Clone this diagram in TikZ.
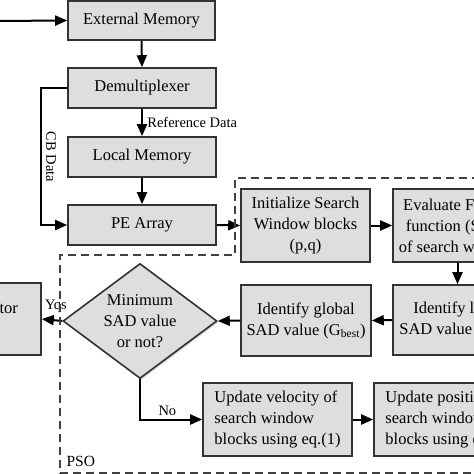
\documentclass[tikz,border=0pt]{standalone}
\usepackage{fontspec}
\setmainfont{Liberation Serif}
\usetikzlibrary{arrows.meta,positioning,shapes.geometric,shadows}
\definecolor{Fill}{HTML}{DEDEDE}
\definecolor{Edge}{HTML}{333333}

\begin{document}
\begin{tikzpicture}[x=1pt,y=-1pt,
      blk/.style={rectangle,draw=Edge,line width=1.6pt,fill=Fill,
        font=\fontsize{16.5}{21}\selectfont,align=center,inner sep=1pt,
        drop shadow={shadow xshift=1.4pt,shadow yshift=-1.4pt,fill=gray!70}},
      dec/.style={blk,diamond,aspect=1.34,inner sep=0pt},
      arr/.style={-{Triangle[length=12pt,width=10pt]},line width=2pt},
      lbl/.style={font=\fontsize{14.5}{16}\selectfont},
      bound/.style={dashed,dash pattern=on 8pt off 5pt,line width=1.4pt,black!75}
    ]
      \useasboundingbox (0,0) rectangle (474,474);
      \clip (0,0) rectangle (474,474);
      % memory path
      \coordinate (src) at (-5,21);
      \node[blk,minimum width=147pt,minimum height=39pt] (ext) at (141.5,20.5) {External Memory};
      \node[blk,minimum width=148pt,minimum height=40pt] (demux) at (142,88) {Demultiplexer};
      \node[blk,minimum width=148pt,minimum height=40pt] (loc) at (142,157) {Local Memory};
      \node[blk,minimum width=148pt,minimum height=40pt] (pe) at (142,225) {PE Array};
      % PSO blocks
      \node[blk,minimum width=129pt,minimum height=73pt] (init) at (305.5,225.5)
        {Initialize Search\\Window blocks\\(p,q)};
      \node[blk,minimum width=129pt,minimum height=73pt] (eval) at (457.5,225.5)
        {Evaluate Fitness\\function (SAD)\\of search window};
      \node[blk,minimum width=129pt,minimum height=70pt] (idr) at (457.5,320)
        {Identify local\\SAD value (P\textsubscript{best})};
      \node[blk,minimum width=130pt,minimum height=71pt] (idg) at (306,320.5)
        {Identify global\\SAD value (G\textsubscript{best})};
      \node[dec,minimum width=154pt,minimum height=115pt] (min) at (140,321)
        {Minimum\\SAD value\\or not?};
      \node[blk,minimum width=142pt,minimum height=72pt] (mv) at (-30,319)
        {Motion Vector\\Window};
      \node[blk,align=left,minimum width=149pt,minimum height=73pt] (vel) at (277.5,419.5)
        {Update velocity of\\search window\\blocks using eq.(1)};
      \node[blk,align=left,minimum width=149pt,minimum height=73pt] (pos) at (448.5,419.5)
        {Update position of\\search window\\blocks using eq.(2)};
      % connectors
      \draw[arr] (src) -- (ext.west);
      \draw[arr] (ext.south) -- (demux.north);
      \draw[arr] (demux.south) -- node[right,lbl,xshift=1pt]{Reference Data} (loc.north);
      \draw[arr] (loc.south) -- (pe.north);
      \draw[arr] (demux.west) -- ++(-26,0) |- (pe.west);
      \node[lbl,rotate=-90] (cb) at (51,157) {CB Data};
      \draw[arr] (pe.east) -- (init.west);
      \draw[arr] (init.east) -- (eval.west);
      \draw[arr] (eval.south) -- (idr.north);
      \draw[arr] (idr.west) -- (idg.east);
      \draw[arr] (idg.west) -- (min.east);
      \draw[arr] (min.west) -- node[above,lbl,yshift=3pt,xshift=4pt]{Yqs} (mv.east);
      \draw[arr] (min.south) |- node[pos=0.72,above,lbl]{No} (vel.west);
      \draw[arr] (vel.east) -- (pos.west);
      % PSO boundary
      \draw[bound] (480,178) -- (235,178) -- (235,255) -- (60,255) -- (60,480);
      \draw[bound] (60,473) -- (480,473);
      \node[lbl,anchor=west,font=\fontsize{15.5}{16}\selectfont] (pso) at (63,461) {PSO};
    \end{tikzpicture}
\end{document}
